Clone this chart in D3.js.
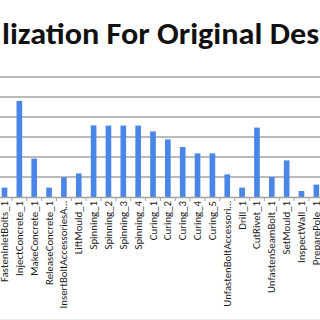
<!DOCTYPE html>
<html>
<head>
<meta charset="utf-8">
<script src="https://cdn.jsdelivr.net/npm/d3@7"></script>
<style>
  html, body { margin: 0; padding: 0; background: #fff; }
  svg { display: block; }
</style>
</head>
<body>
<svg id="chart" width="320" height="320"></svg>
<script>
// Data (visible portion of the chart)
const titleText = "lization For Original Des";
const categories = [
  "FastenInletBolts_1", "InjectConcrete_1", "MakeConcrete_1", "ReleaseConcrete_1",
  "InsertBoltAccessoriesA\u2026", "LiftMould_1", "Spinning_1", "Spinning_2",
  "Spinning_3", "Spinning_4", "Curing_1", "Curing_2", "Curing_3", "Curing_4",
  "Curing_5", "UnfastenBoltAccessori\u2026", "Drill_1", "CutRivet_1",
  "UnfastenSeamBolt_1", "SetMould_1", "InspectWall_1", "PreparePole_1"
];
const values = [
  4.7, 48, 19.2, 4.7, 9.8, 11.8, 35.8, 35.7, 35.7, 35.7, 32.8, 28.8,
  25, 21.8, 21.8, 11.3, 4.7, 34.7, 10, 18.3, 3, 6.2
];
const yTicks = [0, 10, 20, 30, 40, 50, 60];

const svg = d3.select("#chart");
const W = 320, H = 320;
const plotTop = 77, plotBottom = 197;
const step = 14.85;
const firstCenter = 4.5;

const x = d3.scaleBand()
  .domain(categories)
  .range([firstCenter - step / 2, firstCenter - step / 2 + step * categories.length])
  .paddingInner(0.62)
  .paddingOuter(0.31);

const y = d3.scaleLinear().domain([0, 60]).range([plotBottom, plotTop]);

// Title
svg.append("text")
  .attr("x", 2)
  .attr("y", 44)
  .attr("font-family", "Carlito, Lato, 'Open Sans', sans-serif")
  .attr("font-weight", "bold")
  .attr("font-size", 30)
  .attr("fill", "#111")
  .attr("textLength", 317)
  .attr("lengthAdjust", "spacingAndGlyphs")
  .text(titleText);

// Gridlines
svg.append("g")
  .selectAll("line")
  .data(yTicks.slice(1))
  .join("line")
  .attr("x1", 0).attr("x2", W)
  .attr("y1", d => y(d)).attr("y2", d => y(d))
  .attr("stroke", "#a3a3a3")
  .attr("stroke-width", 1.5);

// Bars
svg.append("g")
  .selectAll("rect")
  .data(categories.map((c, i) => ({ c, v: values[i] })))
  .join("rect")
  .attr("x", d => x(d.c))
  .attr("width", x.bandwidth())
  .attr("y", d => y(d.v))
  .attr("height", d => y(0) - y(d.v))
  .attr("fill", "#4a86e8");

// X axis
const xAxis = d3.axisBottom(x).tickSize(0).tickPadding(0).tickFormat("");
const axisG = svg.append("g")
  .attr("transform", `translate(0,${plotBottom})`)
  .call(xAxis);
axisG.select(".domain").attr("stroke", "#a3a3a3").attr("stroke-width", 1.5);

// Tick marks between categories
const boundaries = categories.map(c => x(c) - x.step() * x.paddingInner() / 2);
axisG.append("g")
  .selectAll("line")
  .data(boundaries)
  .join("line")
  .attr("x1", d => d).attr("x2", d => d)
  .attr("y1", 0).attr("y2", 4)
  .attr("stroke", "#a3a3a3")
  .attr("stroke-width", 1);

// Rotated labels
svg.append("g")
  .selectAll("text")
  .data(categories)
  .join("text")
  .attr("transform", d => `translate(${x(d) + x.bandwidth() / 2 + 3.5},${plotBottom + 4}) rotate(-90)`)
  .attr("text-anchor", "end")
  .attr("font-family", "Carlito, Lato, 'Open Sans', sans-serif")
  .attr("font-size", 10.8)
  .attr("fill", "#1a1a1a")
  .text(d => d);

// faint bottom edge
svg.append("line")
  .attr("x1", 0).attr("x2", W)
  .attr("y1", 319.5).attr("y2", 319.5)
  .attr("stroke", "#ececec");
</script>
</body>
</html>
